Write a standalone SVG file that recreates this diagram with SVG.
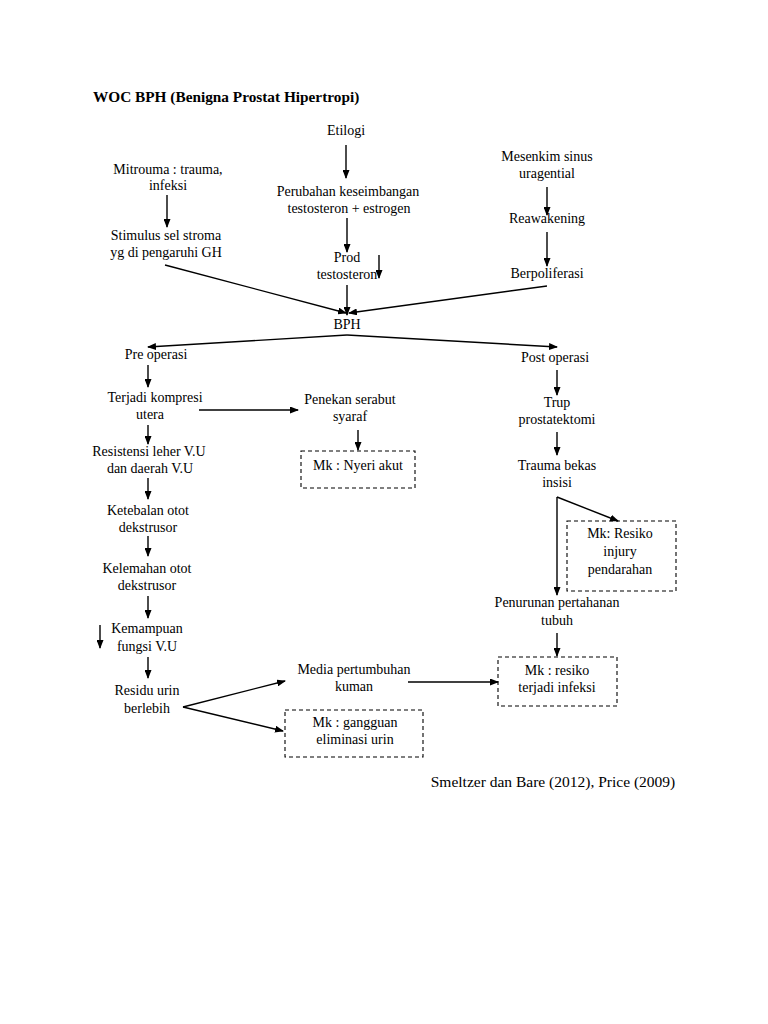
<svg xmlns="http://www.w3.org/2000/svg" width="768" height="1024" viewBox="0 0 768 1024">
<style>
text{font-family:"Liberation Serif","Times New Roman",serif;font-size:14px;fill:#000;text-anchor:middle}
.title{font-weight:bold;font-size:15.3px;text-anchor:start}
.cite{font-size:15.5px}
.c line{stroke:#000;stroke-width:1.4;marker-end:url(#ah)}
.box{fill:none;stroke:#000;stroke-width:1.1;stroke-dasharray:4,3}
</style>
<defs>
<marker id="ah" markerUnits="userSpaceOnUse" markerWidth="9" markerHeight="7" refX="8" refY="3.5" orient="auto">
<path d="M0,0 L9,3.5 L0,7 z" fill="#000"/>
</marker>
</defs>
<rect width="768" height="1024" fill="#fff"/>
<text class="title" x="93" y="102">WOC BPH (Benigna Prostat Hipertropi)</text>

<g id="etilogi"><text x="346" y="135">Etilogi</text></g>
<g id="perubahan"><text x="348" y="196">Perubahan keseimbangan</text><text x="349" y="213">testosteron + estrogen</text></g>
<g id="prod"><text x="347" y="262">Prod</text><text x="347" y="279">testosteron</text></g>
<g id="mitrouma"><text x="168" y="174">Mitrouma : trauma,</text><text x="168" y="190">infeksi</text></g>
<g id="stimulus"><text x="166" y="240">Stimulus sel stroma</text><text x="166" y="257">yg di pengaruhi GH</text></g>
<g id="mesenkim"><text x="547" y="161">Mesenkim sinus</text><text x="547" y="178">uragential</text></g>
<g id="reawakening"><text x="547" y="223">Reawakening</text></g>
<g id="berpoliferasi"><text x="547" y="278">Berpoliferasi</text></g>
<g id="bph"><text x="347" y="329">BPH</text></g>
<g id="pre"><text x="156" y="359">Pre operasi</text></g>
<g id="post"><text x="555" y="362">Post operasi</text></g>
<g id="kompresi"><text x="155" y="402">Terjadi kompresi</text><text x="150" y="419">utera</text></g>
<g id="penekan"><text x="350" y="404">Penekan serabut</text><text x="350" y="421">syaraf</text></g>
<g id="nyeri"><rect class="box" x="301" y="451" width="114" height="37"/><text x="358" y="470">Mk : Nyeri akut</text></g>
<g id="resistensi"><text x="149" y="456">Resistensi leher V.U</text><text x="150" y="473">dan daerah V.U</text></g>
<g id="ketebalan"><text x="148" y="515">Ketebalan otot</text><text x="148" y="532">dekstrusor</text></g>
<g id="kelemahan"><text x="147" y="573">Kelemahan otot</text><text x="147" y="590">dekstrusor</text></g>
<g id="kemampuan"><text x="147" y="633">Kemampuan</text><text x="147" y="651">fungsi V.U</text></g>
<g id="residu"><text x="147" y="695">Residu urin</text><text x="147" y="713">berlebih</text></g>
<g id="media"><text x="354" y="674">Media pertumbuhan</text><text x="354" y="691">kuman</text></g>
<g id="gangguan"><rect class="box" x="285" y="710" width="138" height="47"/><text x="355" y="727">Mk : gangguan</text><text x="355" y="744">eliminasi urin</text></g>
<g id="trup"><text x="557" y="407">Trup</text><text x="557" y="424">prostatektomi</text></g>
<g id="trauma"><text x="557" y="470">Trauma bekas</text><text x="557" y="487">insisi</text></g>
<g id="injury"><rect class="box" x="567" y="521" width="109" height="70"/><text x="620" y="538">Mk: Resiko</text><text x="620" y="556">injury</text><text x="620" y="574">pendarahan</text></g>
<g id="penurunan"><text x="557" y="607">Penurunan pertahanan</text><text x="557" y="625">tubuh</text></g>
<g id="infeksi"><rect class="box" x="498" y="657" width="119" height="49"/><text x="557" y="675">Mk : resiko</text><text x="557" y="692">terjadi infeksi</text></g>
<text class="cite" x="553" y="787">Smeltzer dan Bare (2012), Price (2009)</text>

<g id="connectors" class="c">
<line x1="346" y1="145" x2="346" y2="178"/>
<line x1="347" y1="218" x2="347" y2="252"/>
<line x1="379" y1="255" x2="379" y2="278"/>
<line x1="347" y1="285" x2="347" y2="315"/>
<line x1="167" y1="195" x2="167" y2="227"/>
<line x1="165" y1="265" x2="346" y2="313"/>
<line x1="547" y1="187" x2="547" y2="215"/>
<line x1="547" y1="232" x2="547" y2="266"/>
<line x1="547" y1="286" x2="349" y2="313"/>
<line x1="347" y1="335" x2="148" y2="347"/>
<line x1="347" y1="335" x2="557" y2="347"/>
<line x1="148" y1="365" x2="148" y2="387"/>
<line x1="199" y1="410" x2="298" y2="410"/>
<line x1="358" y1="430" x2="358" y2="450"/>
<line x1="148" y1="425" x2="148" y2="444"/>
<line x1="148" y1="478" x2="148" y2="499"/>
<line x1="148" y1="536" x2="148" y2="556"/>
<line x1="148" y1="596" x2="148" y2="618"/>
<line x1="100" y1="625" x2="100" y2="648"/>
<line x1="148" y1="657" x2="148" y2="678"/>
<line x1="183" y1="707" x2="285" y2="681"/>
<line x1="183" y1="707" x2="283" y2="731"/>
<line x1="557" y1="370" x2="557" y2="395"/>
<line x1="557" y1="432" x2="557" y2="455"/>
<line x1="557" y1="497" x2="557" y2="595"/>
<line x1="557" y1="497" x2="618" y2="521"/>
<line x1="557" y1="633" x2="557" y2="656"/>
<line x1="408" y1="682" x2="498" y2="682"/>
</g>
</svg>
